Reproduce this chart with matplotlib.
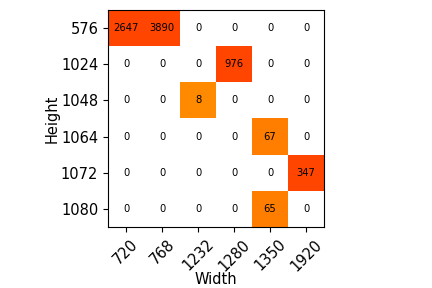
import numpy as np
import matplotlib
matplotlib.use("Agg")
import matplotlib.pyplot as plt
from matplotlib.colors import LinearSegmentedColormap, Normalize

widths = ["720", "768", "1232", "1280", "1350", "1920"]
heights = ["576", "1024", "1048", "1064", "1072", "1080"]
counts = np.array([
    [2647, 3890, 0, 0, 0, 0],
    [0, 0, 0, 976, 0, 0],
    [0, 0, 8, 0, 0, 0],
    [0, 0, 0, 0, 67, 0],
    [0, 0, 0, 0, 0, 347],
    [0, 0, 0, 0, 65, 0],
])

fig = plt.figure(figsize=(4.32, 2.88), dpi=100)
ax = fig.add_axes([108/432, 1 - 227/288, 216/432, 217/288])

cmap = LinearSegmentedColormap.from_list("oo", ["#FF8C00", "#FF4500"])
cmap.set_bad("white")
masked = np.ma.masked_equal(counts, 0)
ax.imshow(masked, cmap=cmap, norm=Normalize(vmin=0, vmax=350, clip=True), aspect="auto")

for i in range(len(heights)):
    for j in range(len(widths)):
        ax.text(j, i, str(counts[i, j]), ha="center", va="center", fontsize=7.2, color="black")

ax.set_xticks(range(len(widths)))
ax.set_xticklabels(widths, rotation=45, fontsize=10.5)
ax.set_yticks(range(len(heights)))
ax.set_yticklabels(heights, fontsize=10.5)
ax.set_xlabel("Width", fontsize=10.5, labelpad=-1)
ax.set_ylabel("Height", fontsize=10.5, labelpad=1)

fig.savefig("out.png", dpi=100)
